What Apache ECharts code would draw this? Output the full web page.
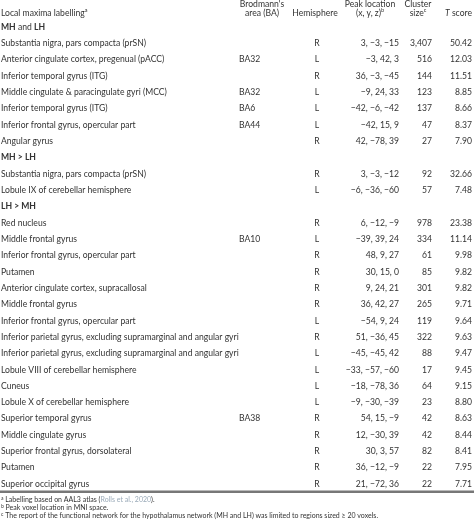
<!DOCTYPE html>
<html>
<head>
<meta charset="utf-8">
<script src="https://cdn.jsdelivr.net/npm/echarts@6/dist/echarts.min.js"></script>
<style>html,body{margin:0;padding:0;background:#fff}#main{width:474px;height:528px}</style>
</head>
<body>
<div id="main"></div>
<script>
var myChart = echarts.init(document.getElementById('main'));

// one entry per table row; section rows have kind 'sec'
var kinds = ['sec','row','row','row','row','row','row','row','sec','row','row','sec',
  'row','row','row','row','row','row','row','row','row','row','row','row','row','row','row','row','row'];
var labels = ['{b|MH} and {b|LH}',
  'Substantia nigra, pars compacta (prSN)',
  'Anterior cingulate cortex, pregenual (pACC)',
  'Inferior temporal gyrus (ITG)',
  'Middle cingulate & paracingulate gyri (MCC)',
  'Inferior temporal gyrus (ITG)',
  'Inferior frontal gyrus, opercular part',
  'Angular gyrus',
  '{b|MH > LH}',
  'Substantia nigra, pars compacta (prSN)',
  'Lobule IX of cerebellar hemisphere',
  '{b|LH > MH}',
  'Red nucleus',
  'Middle frontal gyrus',
  'Inferior frontal gyrus, opercular part',
  'Putamen',
  'Anterior cingulate cortex, supracallosal',
  'Middle frontal gyrus',
  'Inferior frontal gyrus, opercular part',
  'Inferior parietal gyrus, excluding supramarginal and angular gyri',
  'Inferior parietal gyrus, excluding supramarginal and angular gyri',
  'Lobule VIII of cerebellar hemisphere',
  'Cuneus',
  'Lobule X of cerebellar hemisphere',
  'Superior temporal gyrus',
  'Middle cingulate gyrus',
  'Superior frontal gyrus, dorsolateral',
  'Putamen',
  'Superior occipital gyrus'];
var brodmann = ['', '', 'BA32', '', 'BA32', 'BA6', 'BA44', '', '', '', '', '',
  '', 'BA10', '', '', '', '', '', '', '', '', '', '', 'BA38', '', '', '', ''];
var hemisphere = ['', 'R', 'L', 'R', 'L', 'L', 'L', 'R', '', 'R', 'L', '',
  'R', 'L', 'R', 'R', 'R', 'R', 'L', 'R', 'L', 'L', 'L', 'L', 'R', 'R', 'R', 'R', 'R'];
var peaks = ['', '3, \u22123, \u221215', '\u22123, 42, 3', '36, \u22123, \u221245', '\u22129, 24, 33',
  '\u221242, \u22126, \u221242', '\u221242, 15, 9', '42, \u221278, 39', '',
  '3, \u22123, \u221212', '\u22126, \u221236, \u221260', '',
  '6, \u221212, \u22129', '\u221239, 39, 24', '48, 9, 27', '30, 15, 0', '9, 24, 21', '36, 42, 27',
  '\u221254, 9, 24', '51, \u221236, 45', '\u221245, \u221245, 42', '\u221233, \u221257, \u221260',
  '\u221218, \u221278, 36', '\u22129, \u221230, \u221239', '54, 15, \u22129', '12, \u221230, 39',
  '30, 3, 57', '36, \u221212, \u22129', '21, \u221272, 36'];
var clusterSize = ['', '3,407', '516', '144', '123', '137', '47', '27', '', '92', '57', '',
  '978', '334', '61', '85', '301', '265', '119', '322', '88', '17', '64', '23', '42', '42', '82', '22', '22'];
var tScore = ['', '50.42', '12.03', '11.51', '8.85', '8.66', '8.37', '7.90', '', '32.66', '7.48', '',
  '23.38', '11.14', '9.98', '9.82', '9.82', '9.71', '9.64', '9.63', '9.47', '9.45', '9.15', '8.80',
  '8.63', '8.44', '8.41', '7.95', '7.71'];

var textColor = '#333';
var font = 'Lato, "Open Sans", sans-serif';
var fs = 8.6;

// columns: [x, align]
var cols = [[1, 'left'], [239, 'left'], [317, 'center'], [399, 'right'], [432, 'right'], [472, 'right']];

var data = labels.map(function (l, i) { return [i]; });

function renderItem(params, api) {
  var i = api.value(0);
  var p = api.coord([0, i]);
  var y = p[1];
  var children = [];
  if (kinds[i] === 'sec') {
    children.push({type: 'text', x: cols[0][0], y: y, style: {
      text: labels[i], fill: textColor, font: fs + 'px ' + font, verticalAlign: 'middle',
      rich: {b: {fontWeight: 'bold', fontSize: fs, fontFamily: font, fill: textColor}}
    }});
  } else {
    var vals = [labels[i], brodmann[i], hemisphere[i], peaks[i], clusterSize[i], tScore[i]];
    vals.forEach(function (v, c) {
      children.push({type: 'text', x: cols[c][0], y: y, style: {
        text: v, fill: textColor, font: fs + 'px ' + font, align: cols[c][1], verticalAlign: 'middle'
      }});
    });
  }
  return {type: 'group', children: children};
}

var step = 16.32;
var yMin = -27 / step;

function hdr(x, y, t, align) {
  return {type: 'text', left: null, x: x, y: y, style: {text: t, fill: textColor, font: fs + 'px ' + font, align: align, verticalAlign: 'middle',
    rich: {s: {fontSize: 5.5, fontFamily: font, fill: textColor, verticalAlign: 'top', padding: [0, 0, 5, 0]},
           i: {fontStyle: 'italic', fontSize: fs, fontFamily: font, fill: textColor}}}};
}
function foot(y, mark, t) {
  return {type: 'text', x: 1, y: y, style: {text: '{s|' + mark + '} ' + t, fill: textColor, font: '7px ' + font, verticalAlign: 'middle',
    rich: {s: {fontSize: 5, fontFamily: font, fill: textColor, padding: [0, 0, 4, 0]},
           c: {fontSize: 7, fontFamily: font, fill: '#9aaab8'}}}};
}

var option = {
  backgroundColor: '#fff',
  animation: false,
  grid: {left: 0, right: 0, top: 0, bottom: 0},
  xAxis: {type: 'value', min: 0, max: 474, show: false},
  yAxis: {type: 'value', inverse: true, min: yMin, max: yMin + 528 / step, show: false},
  graphic: [
    hdr(262, 4, "Brodmann's", 'center'),
    hdr(262, 13, 'area (BA)', 'center'),
    hdr(315, 13, 'Hemisphere', 'center'),
    hdr(370, 4, 'Peak location', 'center'),
    hdr(370, 13, '(x, y, z){s|b}', 'center'),
    hdr(418, 4, 'Cluster', 'center'),
    hdr(418, 13, 'size{s|c}', 'center'),
    hdr(472, 13, '{i|T} score', 'right'),
    hdr(1, 13, 'Local maxima labelling{s|a}', 'left'),
    {type: 'rect', shape: {x: 0, y: 490.5, width: 474, height: 2.5}, style: {fill: '#777'}},
    foot(500, 'a', 'Labelling based on AAL3 atlas ({c|Rolls et al., 2020}).'),
    foot(508, 'b', 'Peak voxel location in MNI space.'),
    foot(516, 'c', 'The report of the functional network for the hypothalamus network (MH and LH) was limited to regions sized \u2265 20 voxels.')
  ],
  series: [{
    type: 'custom',
    renderItem: renderItem,
    data: data,
    encode: {x: -1, y: 0}
  }]
};

myChart.setOption(option);
</script>
</body>
</html>
